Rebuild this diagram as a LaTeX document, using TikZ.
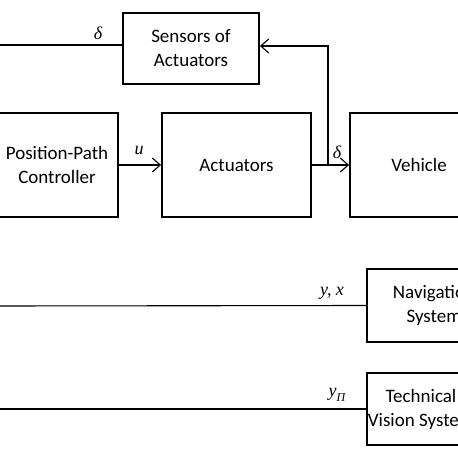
\documentclass[tikz,border=0pt]{standalone}
\usepackage{fontspec}
\setmainfont{Carlito}
\newfontfamily\lblfont{Liberation Serif}
\usetikzlibrary{arrows.meta}
\begin{document}
\begin{tikzpicture}[x=1pt,y=-1pt,
  blk/.style={draw,line width=1.8pt,inner sep=0pt,align=center,
    font=\fontsize{19}{24}\selectfont},
  conn/.style={line width=1.1pt},
  arr/.style={conn,-{Straight Barb[length=8pt,width=14pt,line width=1.1pt]}},
  lbl/.style={font=\lblfont\itshape\fontsize{18}{20}\selectfont,inner sep=0pt}]
\useasboundingbox (0,0) rectangle (458,458);
\clip (0,0) rectangle (458,458);
\node[blk,minimum width=136pt,minimum height=71pt] (sens) at (191,48.5) {Sensors of\\Actuators};
\node[blk,minimum width=122pt,minimum height=104pt] (ctrl) at (57,165) {Position-Path\\Controller};
\node[blk,minimum width=149pt,minimum height=104pt] (act) at (236.5,165) {Actuators};
\node[blk,minimum width=138pt,minimum height=104pt] (veh) at (419,165) {Vehicle};
\node[blk,minimum width=134pt,minimum height=73pt] (nav) at (434,305.5) {Navigation\\System};
\node[blk,minimum width=108pt,minimum height=72pt] (tech) at (421,409) {Technical\\Vision System};
\coordinate (br) at (328,165);
\coordinate (fbend) at (-5,45);
\coordinate (navend) at (-5,306);
\coordinate (techend) at (-5,409);
\draw[arr] (ctrl.east) -- (act.west);
\draw[arr] (act.east) -- (veh.west);
\draw[arr] (br) |- ([yshift=2.5pt]sens.east);
\draw[conn] ([yshift=3.5pt]sens.west) -- (fbend);
\draw[conn] (nav.west) -- (navend);
\draw[conn] (tech.west) -- (techend);
\node[lbl] (l1) at (98,33) {δ};
\node[lbl] (l2) at (139,150) {u};
\node[lbl] (l3) at (337,152) {δ};
\node[lbl] (l4) at (332,293) {y, x};
\node[lbl] (l5) at (337,395) {y\raisebox{-0.25em}{\fontsize{12}{12}\selectfont П}};
\end{tikzpicture}
\end{document}
